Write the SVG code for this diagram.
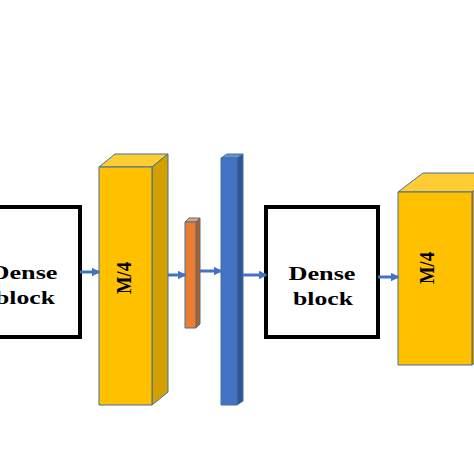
<svg xmlns="http://www.w3.org/2000/svg" width="474" height="474" viewBox="0 0 474 474">
<defs>
<style>
.box{fill:#fff;stroke:#000;stroke-width:4}
.lbl{font-family:"Liberation Serif","Times New Roman",serif;font-weight:bold;font-size:18px;fill:#000}
.edge{stroke:#41719C;stroke-width:1;stroke-linejoin:round}
.yf{fill:#FFC000}.yt{fill:#FFCC33}.ys{fill:#D4A000}
.of{fill:#ED7D31}.ot{fill:#F4A06A}.os{fill:#C55A11}
.bf{fill:#4472C4}.bt{fill:#6A8FD4}.bs{fill:#2F5597}
.conn{stroke:#4472C4;stroke-width:3;fill:none}
</style>
<marker id="ah" viewBox="0 0 6 6" refX="5" refY="3" markerWidth="3" markerHeight="3" orient="auto" markerUnits="strokeWidth">
<path d="M0,0 L6,3 L0,6 z" fill="#4472C4"/>
</marker>
</defs>
<rect width="474" height="474" fill="#fff"/>
<g id="dense1">
<rect class="box" x="-32" y="207" width="112" height="130"/>
<text class="lbl" x="24" y="279" text-anchor="middle" textLength="67" lengthAdjust="spacingAndGlyphs">Dense</text>
<text class="lbl" x="25" y="304" text-anchor="middle" textLength="60" lengthAdjust="spacingAndGlyphs">block</text>
</g>
<g id="m4a">
<polygon class="yt edge" points="99,167 115,154 168,154 152,167"/>
<polygon class="ys edge" points="152,167 168,154 168,392 152,405"/>
<rect class="yf edge" x="99" y="167" width="53" height="238"/>
<text class="lbl" transform="translate(131,278) rotate(-90) scale(1,1.15)" text-anchor="middle" textLength="32" lengthAdjust="spacingAndGlyphs">M/4</text>
</g>
<g id="orange">
<polygon class="ot edge" points="185,222 189,218 200,218 196,222"/>
<polygon class="os edge" points="196,222 200,218 200,324 196,328"/>
<rect class="of edge" x="185" y="222" width="11" height="106"/>
</g>
<g id="blue">
<polygon class="bt edge" points="221,158 227,154 243,154 237,158"/>
<polygon class="bs edge" points="237,158 243,154 243,401 237,405"/>
<rect class="bf edge" x="221" y="158" width="16" height="247"/>
</g>
<g id="dense2">
<rect class="box" x="266" y="207" width="112" height="130"/>
<text class="lbl" x="322" y="280" text-anchor="middle" textLength="67" lengthAdjust="spacingAndGlyphs">Dense</text>
<text class="lbl" x="323" y="305" text-anchor="middle" textLength="60" lengthAdjust="spacingAndGlyphs">block</text>
</g>
<g id="m4b">
<polygon class="yt edge" points="398,192 423,173 497,173 472,192"/>
<polygon class="ys edge" points="472,192 497,173 497,346 472,365"/>
<rect class="yf edge" x="398" y="192" width="74" height="173"/>
<text class="lbl" transform="translate(434,268) rotate(-90) scale(1,1.15)" text-anchor="middle" textLength="32" lengthAdjust="spacingAndGlyphs">M/4</text>
</g>
<g id="connectors">
<line class="conn" x1="80" y1="272" x2="99" y2="272" marker-end="url(#ah)"/>
<line class="conn" x1="168" y1="275" x2="185" y2="275" marker-end="url(#ah)"/>
<line class="conn" x1="200" y1="271" x2="221" y2="271" marker-end="url(#ah)"/>
<line class="conn" x1="243" y1="275" x2="266" y2="275" marker-end="url(#ah)"/>
<line class="conn" x1="378" y1="277" x2="398" y2="277" marker-end="url(#ah)"/>
</g>
</svg>
